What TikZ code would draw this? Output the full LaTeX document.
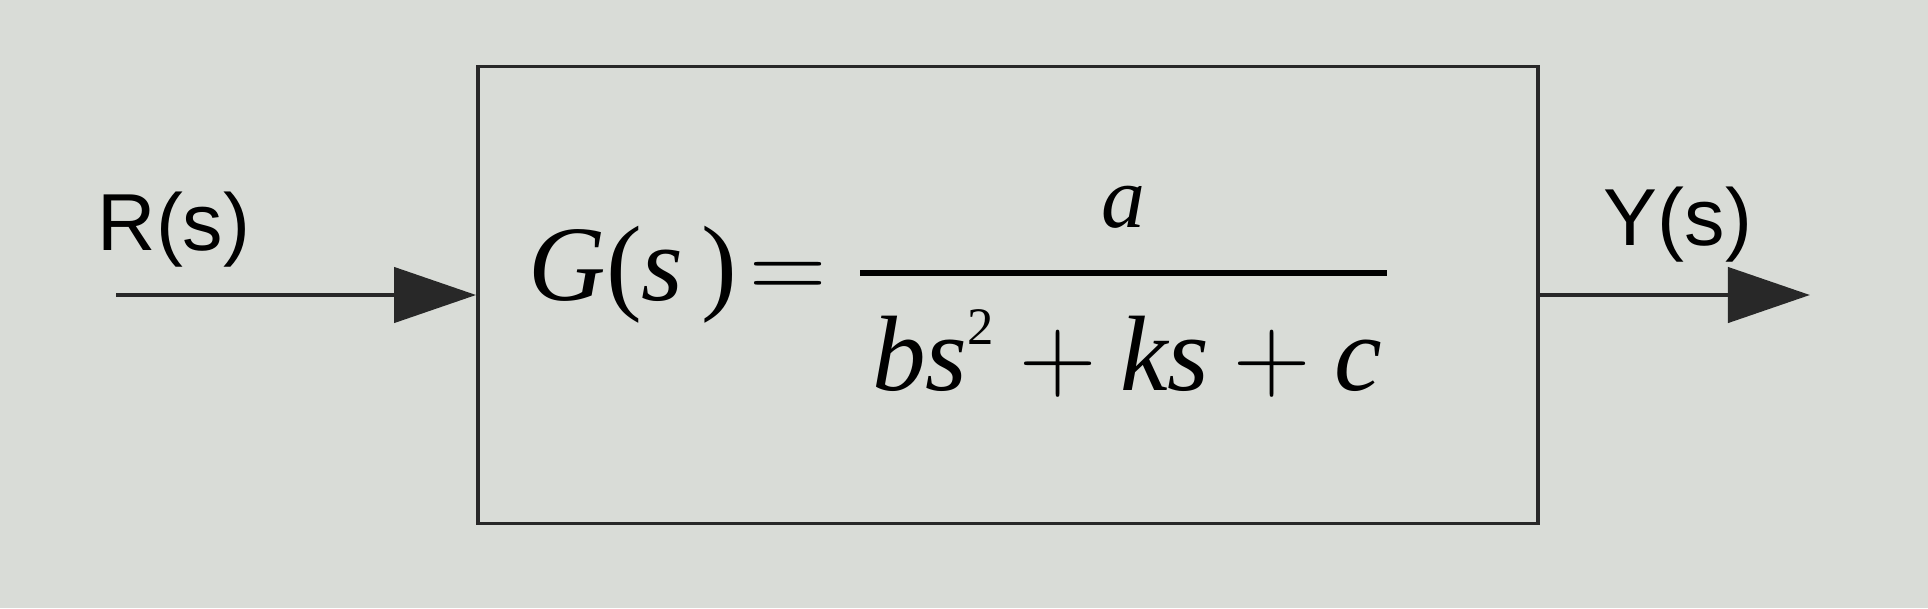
\RequirePackage{fix-cm}
\documentclass[tikz,border=0pt]{standalone}
\usepackage{amsmath}
\usepackage{fontspec}
\setmainfont{Liberation Serif}
\setsansfont{Liberation Sans}
\usepackage{tikz}
\usetikzlibrary{positioning, arrows.meta}

\definecolor{paper}{RGB}{217,220,215}
\definecolor{ink}{RGB}{40,40,40}

\begin{document}
\begin{tikzpicture}[
    plant/.style={draw=ink, line width=1.1pt, minimum width=10.6cm, minimum height=4.57cm, inner sep=0pt},
    signal/.style={draw=ink, line width=1.3pt, -{Triangle[length=8.2mm, width=5.5mm]}},
    port/.style={font=\sffamily\fontsize{23}{26}\selectfont, text=black, inner sep=0pt, anchor=base},
    formula/.style={font=\fontsize{30.5}{34}\selectfont, inner sep=0pt, anchor=base west}]
  \fill[paper] (0,0) rectangle (19.28,6.08);
  \useasboundingbox (0,0) rectangle (19.28,6.08);
  % the block and its two signals
  \node [plant] (plant) at (10.08,3.13) {};
  \coordinate [left=3.6cm of plant.west] (input);
  \coordinate [right=2.7cm of plant.east] (output);
  \draw [signal] (input) -- (plant.west);
  \draw [signal] (plant.east) -- (output);
  \node [port] (rs) at (1.74,3.58) {R(s)};
  \node [port] (ys) at (16.78,3.63) {Y(s)};
  % transfer function
  \node [formula] (tf) at (5.28,3.08)
    {$\displaystyle \text{\itshape G}\text{(\itshape s\/\,\upshape)}\mkern2mu{=}\mkern5mu
      \genfrac{}{}{1.8pt}{0}{\text{\fontsize{25}{28}\selectfont\itshape a}}
      {\kern0.12cm\rule{0pt}{0.95cm}\text{\itshape bs}^{\text{\fontsize{15}{17}\selectfont 2}}
       +\text{\itshape ks}+\text{\itshape c}\kern0.05cm}$};
\end{tikzpicture}
\end{document}
